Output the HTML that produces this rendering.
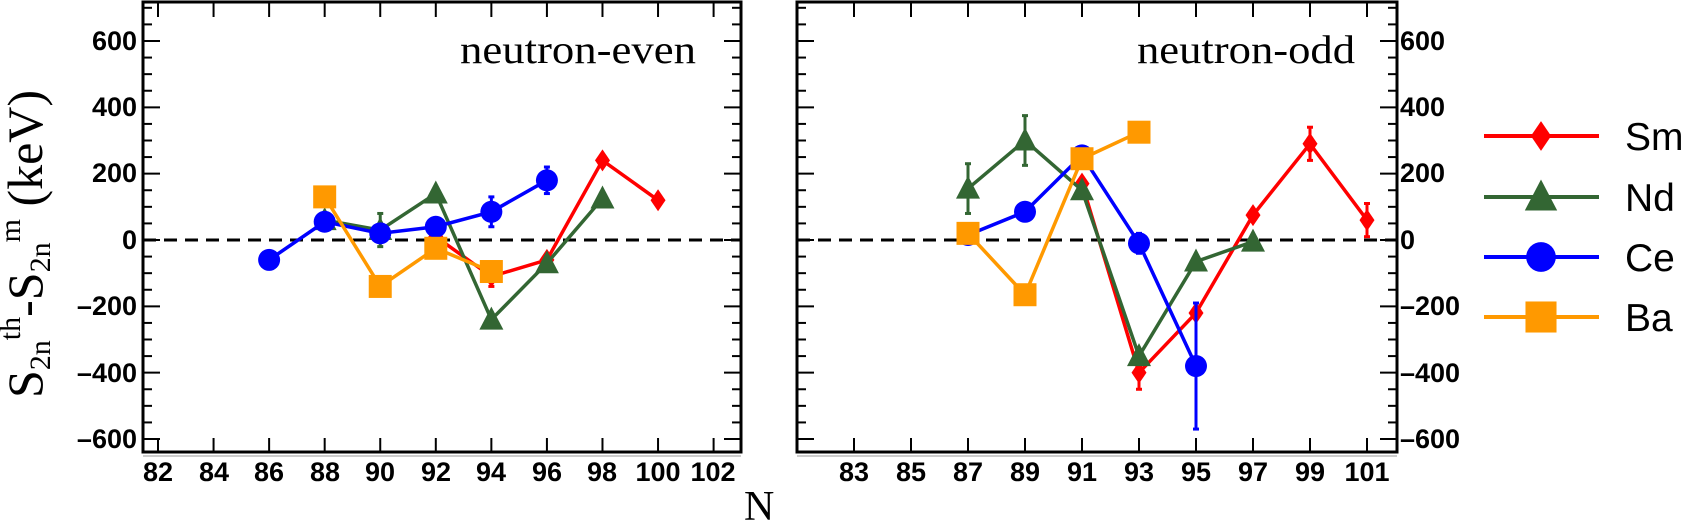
<!DOCTYPE html>
<html><head><meta charset="utf-8"><style>
html,body{margin:0;padding:0;background:#fff;}
svg{display:block;}
.tl{font-family:"Liberation Sans",sans-serif;font-weight:bold;font-size:27px;fill:#000;}
.sf{font-family:"Liberation Serif",serif;fill:#000;}
</style></head><body>
<svg id="s" width="1684" height="525" viewBox="0 0 1684 525" xmlns="http://www.w3.org/2000/svg">
<g id="g"></g>
<g class="tl" text-anchor="end">
<text x="137" y="50">600</text><text x="137" y="116">400</text><text x="137" y="182">200</text>
<text x="137" y="249">0</text><text x="137" y="315">–200</text><text x="137" y="382">–400</text><text x="137" y="448">–600</text>
</g>
<g class="tl" text-anchor="start">
<text x="1400" y="50">600</text><text x="1400" y="116">400</text><text x="1400" y="182">200</text>
<text x="1400" y="249">0</text><text x="1400" y="315">–200</text><text x="1400" y="382">–400</text><text x="1400" y="448">–600</text>
</g>
<g class="tl" text-anchor="middle">
<text x="158" y="481">82</text><text x="214" y="481">84</text><text x="269" y="481">86</text><text x="325" y="481">88</text>
<text x="380" y="481">90</text><text x="436" y="481">92</text><text x="491" y="481">94</text><text x="547" y="481">96</text>
<text x="602" y="481">98</text><text x="658" y="481">100</text><text x="713" y="481">102</text>
<text x="854" y="481">83</text><text x="911" y="481">85</text><text x="968" y="481">87</text><text x="1025" y="481">89</text>
<text x="1082" y="481">91</text><text x="1139" y="481">93</text><text x="1196" y="481">95</text><text x="1253" y="481">97</text>
<text x="1310" y="481">99</text><text x="1367" y="481">101</text>
</g>
<text class="sf" x="460" y="63" font-size="40" textLength="236" lengthAdjust="spacingAndGlyphs">neutron-even</text>
<text class="sf" x="1137" y="63" font-size="40" textLength="218" lengthAdjust="spacingAndGlyphs">neutron-odd</text>
<text class="sf" x="744" y="520" font-size="42">N</text>
<g transform="translate(42,398) rotate(-90)">
<text class="sf" x="0" y="0" font-size="50">S<tspan font-size="30" dy="8">2n</tspan><tspan font-size="30" dy="-30">th</tspan><tspan dy="22">-S</tspan><tspan font-size="30" dy="8">2n</tspan><tspan font-size="30" dy="-30">m</tspan><tspan dy="22"> (keV)</tspan></text>
</g>
<g font-family="Liberation Sans,sans-serif" font-size="39" fill="#000">
<text x="1625" y="150">Sm</text><text x="1625" y="211">Nd</text><text x="1625" y="271">Ce</text><text x="1625" y="331">Ba</text>
</g>
</svg>
<script>
var NS="http://www.w3.org/2000/svg",G=document.getElementById('g');
function el(t,a){var e=document.createElementNS(NS,t);for(var k in a)e.setAttribute(k,a[k]);G.appendChild(e);return e;}
function Y(v){return 240-v*0.3317;}
function XL(n){return 158+(n-82)*27.78;}
function XR(n){return 854+(n-83)*28.5;}
var C={Sm:'#ff0000',Nd:'#336633',Ce:'#0000ff',Ba:'#ff9900'};
function marker(t,x,y,c,s){s=s||1;
 if(t=='Sm')el('polygon',{points:[x,y-11*s,x+7.5*s,y,x,y+11*s,x-7.5*s,y].join(' '),fill:c});
 if(t=='Nd')el('polygon',{points:[x,y-13*s,x+12*s,y+10*s,x-12*s,y+10*s].join(' '),fill:c});
 if(t=='Ce')el('ellipse',{cx:x,cy:y,rx:11*s,ry:11*s,fill:c});
 if(t=='Ba')el('rect',{x:x-11.5*s,y:y-11.5*s,width:23*s,height:23*s,fill:c});
}
function panel(x0,x1,X,maj){
 var y0=2,y1=452;
 el('line',{x1:x0,y1:Y(0),x2:x1,y2:Y(0),stroke:'#000','stroke-width':3,'stroke-dasharray':'13 8'});
 for(var v=-650;v<=700;v+=50){var y=Y(v);if(y<y0||y>y1)continue;var L=(v%200==0)?17:9;
  el('line',{x1:x0,y1:y,x2:x0+L,y2:y,stroke:'#000','stroke-width':2});
  el('line',{x1:x1-L,y1:y,x2:x1,y2:y,stroke:'#000','stroke-width':2});}
 maj.forEach(function(n){var x=X(n);
  el('line',{x1:x,y1:y1,x2:x,y2:y1-14,stroke:'#000','stroke-width':2});
  el('line',{x1:x,y1:y0,x2:x,y2:y0+15,stroke:'#000','stroke-width':2});});
 el('rect',{x:x0,y:y0,width:x1-x0,height:y1-y0,fill:'none',stroke:'#000','stroke-width':3});
 el('line',{x1:x0,y1:y1+4,x2:x1,y2:y1+4,stroke:'#bbb','stroke-width':1.5});
}
panel(143,741,XL,[82,84,86,88,90,92,94,96,98,100,102]);
panel(797,1397,XR,[83,85,87,89,91,93,95,97,99,101]);
function series(X,name,pts){var c=C[name];
 el('polyline',{points:pts.map(function(p){return X(p[0])+','+Y(p[1]);}).join(' '),fill:'none',stroke:c,'stroke-width':3.5});
 pts.forEach(function(p){if(p[2]){var x=X(p[0]);el('line',{x1:x,y1:Y(p[1]+p[2]),x2:x,y2:Y(p[1]-p[2]),stroke:c,'stroke-width':3});
  el('line',{x1:x-3,y1:Y(p[1]+p[2]),x2:x+3,y2:Y(p[1]+p[2]),stroke:c,'stroke-width':3});
  el('line',{x1:x-3,y1:Y(p[1]-p[2]),x2:x+3,y2:Y(p[1]-p[2]),stroke:c,'stroke-width':3});}
  marker(name,X(p[0]),Y(p[1]),c);});
}
series(XL,'Sm',[[92,10],[94,-110,30],[96,-60],[98,240],[100,120]]);
series(XL,'Nd',[[88,60],[90,30,50],[92,140],[94,-240],[96,-70],[98,125]]);
series(XL,'Ce',[[86,-60],[88,55],[90,20],[92,40],[94,85,45],[96,180,40]]);
series(XL,'Ba',[[88,130],[90,-140],[92,-25],[94,-95]]);
series(XR,'Sm',[[91,170],[93,-400,50],[95,-220],[97,75],[99,290,50],[101,60,50]]);
series(XR,'Nd',[[87,155,75],[89,300,75],[91,150],[93,-350],[95,-65],[97,-5]]);
series(XR,'Ce',[[87,15],[89,85],[91,255],[93,-10,30],[95,-380,190]]);
series(XR,'Ba',[[87,20],[89,-165],[91,245],[93,325]]);
[['Sm',136],['Nd',197],['Ce',257],['Ba',317]].forEach(function(a){
 el('line',{x1:1484,y1:a[1],x2:1599,y2:a[1],stroke:C[a[0]],'stroke-width':4});
 marker(a[0],1541,a[1],C[a[0]],1.35);});
</script>
</body></html>
